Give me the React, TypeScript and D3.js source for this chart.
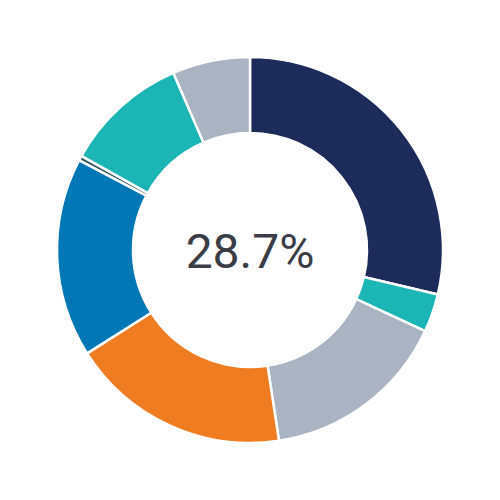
import { useEffect, useRef } from "react";
import * as d3 from "d3";

// slice shares in percent, clockwise from 12 o'clock
const labels = ["A", "B", "C", "D", "E", "F", "G", "H"];
const values = [28.7, 3.2, 15.7, 18.4, 16.7, 0.4, 10.4, 6.5];
const colors = [
  "#1d2b5b",
  "#1bb5b5",
  "#a9b3c1",
  "#f07c22",
  "#0277b5",
  "#2f5560",
  "#1bb5b5",
  "#a9b3c1",
];
const centerLabel = "28.7%";

export default function App() {
  const svgRef = useRef<SVGSVGElement>(null);

  useEffect(() => {
    if (!svgRef.current) return;
    const svg = d3.select(svgRef.current);
    svg.selectAll("*").remove();

    const width = 500;
    const height = 500;
    const outer = 193;
    const inner = 117;

    const g = svg
      .append("g")
      .attr("transform", `translate(${width / 2},${height / 2})`);

    const pie = d3
      .pie<number>()
      .sort(null)
      .value((d) => d);

    const arc = d3
      .arc<d3.PieArcDatum<number>>()
      .innerRadius(inner)
      .outerRadius(outer);

    g.selectAll("path")
      .data(pie(values))
      .enter()
      .append("path")
      .attr("d", arc)
      .attr("fill", (_, i) => colors[i])
      .attr("stroke", "#fff")
      .attr("stroke-width", 2.5)
      .append("title")
      .text((_, i) => labels[i]);

    g.append("text")
      .attr("text-anchor", "middle")
      .attr("y", 18)
      .style("font-family", "Roboto, 'Noto Sans', sans-serif")
      .style("font-size", "48px")
      .style("fill", "#3a3d45")
      .text(centerLabel);
  }, []);

  return (
    <svg
      ref={svgRef}
      width="500"
      height="500"
      style={{ position: "absolute", left: 0, top: 0, background: "#fff" }}
    />
  );
}
